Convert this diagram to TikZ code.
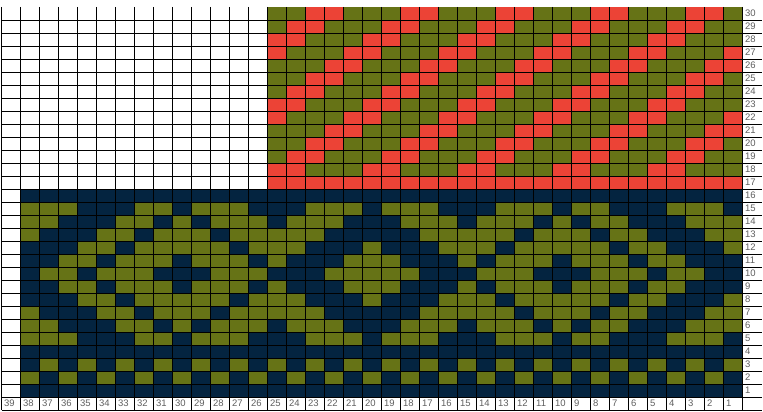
\documentclass[tikz,border=0pt]{standalone}
\usepackage{fontspec}
\newfontfamily\labfont{Liberation Sans}
\definecolor{knitG}{RGB}{102,115,22}
\definecolor{knitR}{RGB}{236,67,54}
\definecolor{knitN}{RGB}{4,36,64}
\definecolor{labgray}{RGB}{95,95,95}
\begin{document}
\begin{tikzpicture}[x=1pt,y=-1pt,
  lab/.style={font=\labfont\fontsize{9.5}{10}\selectfont, text=labgray, anchor=west, inner sep=0pt},
  gridline/.style={line width=0.9pt, black},
  cellG/.style={fill=knitG},
  cellR/.style={fill=knitR}]
\useasboundingbox (0,0) rectangle (763,412);
\fill[white] (0,0) rectangle (763,412);
% ---- lower band: navy ground, olive stitches ----
\fill[knitN] (20.5,189) rectangle (742.5,397);
\foreach \r/\cols in {
  15/{38,37,36,32,31,29,28,27,23,22,21,19,18,17,13,12,11,9,8,4,3,2},
  14/{38,37,33,32,30,28,27,26,24,23,22,18,17,16,14,13,12,10,8,7,3,2,1},
  13/{38,34,33,31,30,29,27,26,25,24,23,17,16,15,14,13,11,10,9,7,6,2,1},
  12/{35,34,32,31,30,29,28,26,25,24,20,16,15,14,12,11,10,9,8,6,5,1},
  11/{36,35,33,32,31,29,28,27,25,21,20,19,15,13,12,11,9,8,7,5,4},
  10/{37,36,34,33,32,28,27,26,22,21,20,19,18,14,13,12,8,7,6,4,3},
  9/{36,35,33,32,31,29,28,27,25,21,20,19,15,13,12,11,9,8,7,5,4},
  8/{35,34,32,31,30,29,28,26,25,24,20,16,15,14,12,11,10,9,8,6,5,1},
  7/{38,34,33,31,30,29,27,26,25,24,23,17,16,15,14,13,11,10,9,7,6,2,1},
  6/{38,37,33,32,30,28,27,26,24,23,22,18,17,16,14,13,12,10,8,7,3,2,1},
  5/{38,37,36,32,31,29,28,27,23,22,21,19,18,17,13,12,11,9,8,4,3,2},
  3/{1,3,...,37},
  2/{2,4,...,38}}{
  \foreach \c in \cols {
    \fill[cellG] ({1.5+(39-\c)*19},{7+(30-\r)*13}) rectangle ++(19,13);
  }
}
% ---- upper band: olive ground, red diagonals ----
\fill[knitG] (267.5,7) rectangle (742.5,189);
\fill[knitR] (267.5,176) rectangle (742.5,189);
\foreach \r in {18,...,30}{
  \foreach \c in {1,...,25}{
    \pgfmathtruncatemacro\m{mod(\c+\r,5)}
    \ifnum\m=2 \fill[cellR] ({1.5+(39-\c)*19},{7+(30-\r)*13}) rectangle ++(19,13); \fi
    \ifnum\m=3 \fill[cellR] ({1.5+(39-\c)*19},{7+(30-\r)*13}) rectangle ++(19,13); \fi
  }
}
% ---- grid ----
\foreach \k in {0,...,39}{
  \draw[gridline] ({1.5+\k*19},7) -- ({1.5+\k*19},410);
}
\foreach \k in {1,...,31}{
  \draw[gridline] (1.5,{7+\k*13}) -- (761.5,{7+\k*13});
}
% ---- labels ----
\foreach \r in {1,...,30}{
  \node[lab] (row\r) at (745,{7+(30-\r)*13+6.5}) {\r};
}
\foreach \c in {1,...,39}{
  \node[lab] (col\c) at ({1.5+(39-\c)*19+2.5},403.5) {\c};
}
\end{tikzpicture}
\end{document}
